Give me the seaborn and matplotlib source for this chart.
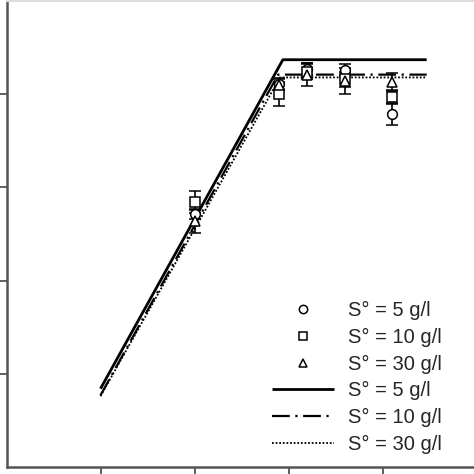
import numpy as np
import pandas as pd
import matplotlib
matplotlib.use("Agg")
import matplotlib.pyplot as plt
import seaborn as sns

# model lines (x, y) for three initial substrate concentrations
line_x_5 = [1.0, 2.94, 4.47]
line_y_5 = [0.84, 4.37, 4.37]
line_x_10 = [1.0, 2.89, 4.47]
line_y_10 = [0.77, 4.21, 4.21]
line_x_30 = [1.0, 2.91, 4.47]
line_y_30 = [0.76, 4.18, 4.18]

# experimental points
pts_x = [2.0, 2.9, 3.2, 3.6, 4.1]
pts_5 = [2.71, 4.11, 4.27, 4.26, 3.79]
err_5 = [0.05, 0.06, 0.06, 0.06, 0.12]
pts_10 = [2.84, 4.00, 4.24, 4.16, 3.97]
err_10 = [0.12, 0.13, 0.08, 0.08, 0.08]
pts_30 = [2.64, 4.10, 4.21, 4.14, 4.13]
err_30 = [0.13, 0.06, 0.12, 0.14, 0.10]

labels = ["S° = 5 g/l", "S° = 10 g/l", "S° = 30 g/l"]

sns.set_style("ticks")
plt.rcParams["font.family"] = ["Liberation Sans", "DejaVu Sans"]

fig = plt.figure(figsize=(4.74, 4.74), dpi=100)
ax = fig.add_axes([6.5 / 474, 7 / 474, 470 / 474, 466 / 474])

# points with error bars
markers = ["o", "s", "^"]
msizes = [7, 6.5, 7]
for ys, es, m, ms, lab in zip([pts_5, pts_10, pts_30], [err_5, err_10, err_30], markers, msizes, labels):
    ax.errorbar(pts_x, ys, yerr=es, fmt=m, ms=ms, mfc="white", mec="black", mew=1.1,
                ecolor="black", elinewidth=1.2, capsize=4, capthick=1.2, label=lab, zorder=3)

# model lines
lines = pd.DataFrame({
    "x": line_x_5 + line_x_10 + line_x_30,
    "y": line_y_5 + line_y_10 + line_y_30,
    "S": [labels[0]] * 3 + [labels[1]] * 3 + [labels[2]] * 3,
})
sns.lineplot(data=lines, x="x", y="y", hue="S", style="S",
             palette=["black", "black", "black"],
             dashes=[(1, 0), (8, 2.5, 1, 2.5), (1, 1)],
             linewidth=1.6, ax=ax, legend=False, sort=False)
for l, lw in zip(ax.get_lines()[-3:], [2.0, 1.6, 1.3]):
    l.set_linewidth(lw)

ax.set_xlim(0, 5)
ax.set_ylim(0, 5)
ax.set_xticks([1, 2, 3, 4])
ax.set_yticks([1, 2, 3, 4])
ax.set_xticklabels([])
ax.set_yticklabels([])
ax.set_xlabel("")
ax.set_ylabel("")
ax.tick_params(direction="out", length=5, width=1.2, color="#444444")
for side in ["left", "bottom"]:
    ax.spines[side].set_color("#555555")
    ax.spines[side].set_linewidth(1.8)
ax.spines["right"].set_visible(False)
ax.spines["top"].set_color("#dddddd")
ax.spines["top"].set_linewidth(1.5)

# legend: markers first, then lines
mk_handles = [plt.Line2D([], [], ls="none", marker=m, ms=ms - 1, mfc="white", mec="black", mew=1.1)
              for m, ms in zip(markers, msizes)]
ln_handles = ax.get_lines()[-3:]
ax.legend(mk_handles + list(ln_handles), labels + labels, loc="lower right",
          bbox_to_anchor=(452 / 474, 10 / 474), bbox_transform=fig.transFigure,
          frameon=False, fontsize=14.5, handlelength=3.1, handletextpad=0.7,
          labelspacing=0.38, borderpad=0)

plt.savefig("out.png", dpi=100)
